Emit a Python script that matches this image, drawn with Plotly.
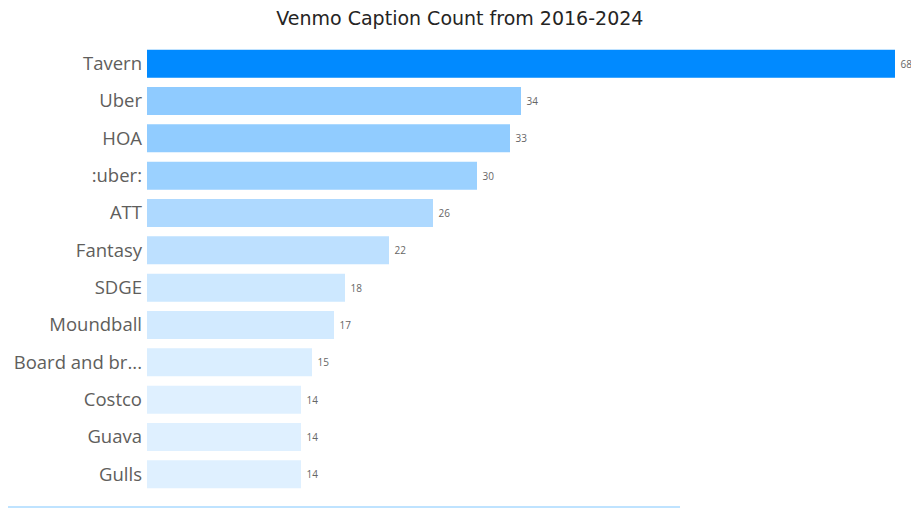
import plotly.graph_objects as go

categories = ["Tavern", "Uber", "HOA", ":uber:", "ATT", "Fantasy", "SDGE",
              "Moundball", "Board and br...", "Costco", "Guava", "Gulls"]
counts = [68, 34, 33, 30, 26, 22, 18, 17, 15, 14, 14, 14]
bar_colors = ["#018AFF", "#8FCBFF", "#91CCFF", "#9BD1FF", "#AED9FF", "#BDE0FF",
              "#CDE8FF", "#D2EAFF", "#DAEEFF", "#DFF0FF", "#DFF0FF", "#DFF0FF"]

fig = go.Figure(go.Bar(
    x=counts,
    y=categories,
    orientation="h",
    marker=dict(color=bar_colors, line=dict(width=0)),
    text=[str(v) for v in counts],
    texttemplate=" %{text}",
    textposition="outside",
    constraintext="none",
    textfont=dict(family="Open Sans", size=10, color="#666666"),
    cliponaxis=False,
    hoverinfo="x+y",
))

fig.update_layout(
    width=911, height=501,
    margin=dict(l=139, r=24, t=37, b=16, autoexpand=False),
    paper_bgcolor="white", plot_bgcolor="white",
    bargap=0.25,
    showlegend=False,
    title=dict(text="Venmo Caption Count from 2016-2024",
               x=0.496, xanchor="center", xref="container",
               y=0.979, yref="container", yanchor="middle",
               font=dict(family="DejaVu Sans", size=19, color="#252423")),
    xaxis=dict(range=[0, 68], visible=False, showgrid=False, zeroline=False,
               automargin=False),
    yaxis=dict(autorange="reversed", showgrid=False, zeroline=False,
               automargin=False,
               tickfont=dict(family="Open Sans", size=18.5, color="#605E5C"),
               ticks="", ticklabelstandoff=4),
    shapes=[dict(type="line", xref="paper", yref="paper",
                 x0=-0.1965, x1=0.7126, y0=-0.031, y1=-0.031,
                 line=dict(color="#BFE3FF", width=2))],
)

fig.write_html("out.html")
